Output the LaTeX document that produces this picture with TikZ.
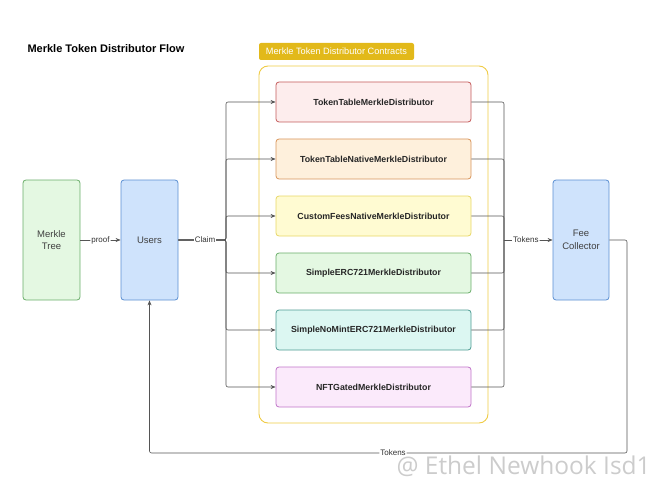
\documentclass[tikz,border=0pt]{standalone}
\usepackage{fontspec}
\setmainfont{Liberation Sans}
\newfontfamily\wmfont{Open Sans}
\usetikzlibrary{arrows.meta}
\definecolor{lnc}{HTML}{555555}
\definecolor{ylw}{HTML}{EFCB45}
\definecolor{ylwl}{HTML}{E2B91A}
\definecolor{rdF}{HTML}{FDEDED}\definecolor{rdD}{HTML}{C45A5A}
\definecolor{orF}{HTML}{FEF0DC}\definecolor{orD}{HTML}{D8955A}
\definecolor{yeF}{HTML}{FFFBD2}\definecolor{yeD}{HTML}{E8D766}
\definecolor{grF}{HTML}{E4F8E2}\definecolor{grD}{HTML}{6AAE6A}
\definecolor{tlF}{HTML}{DCF7F2}\definecolor{tlD}{HTML}{4E9C93}
\definecolor{puF}{HTML}{FBEAFB}\definecolor{puD}{HTML}{C074C8}
\definecolor{blF}{HTML}{CFE3FC}\definecolor{blD}{HTML}{5B8FD2}
\tikzset{
  dist/.style={draw, rounded corners=3pt, line width=0.8pt, minimum width=195pt, minimum height=40pt, font=\fontsize{8.8}{10}\selectfont\bfseries, text=black!85},
  tall/.style={draw, rounded corners=3pt, line width=0.8pt, minimum width=57pt, minimum height=120pt, font=\fontsize{9.5}{12.5}\selectfont, align=center, text=black!75},
  conn/.style={draw=lnc, line width=0.6pt, rounded corners=2pt},
  arr/.style={conn, -{Stealth[length=5pt,width=4pt]}},
  elab/.style={fill=white, inner sep=1pt, font=\fontsize{8}{9}\selectfont, text=black!80},
}
\begin{document}
\begin{tikzpicture}[x=1pt,y=-1pt]
\useasboundingbox (0,0) rectangle (656,492);
\node[anchor=west, font=\fontsize{11}{13}\selectfont\bfseries] (title) at (24,49) {Merkle Token Distributor Flow};
\node[draw=ylw, line width=0.9pt, rounded corners=9pt, minimum width=229pt, minimum height=357pt] (cont) at (373.5,244.5) {};
\node[fill=ylwl, rounded corners=2pt, minimum width=155pt, minimum height=17pt, inner sep=1pt, font=\fontsize{9.2}{10}\selectfont, text=white] (contlbl) at (336.5,51.5) {Merkle Token Distributor Contracts};
\node[dist, fill=rdF, draw=rdD] (d1) at (373.5,102) {TokenTableMerkleDistributor};
\node[dist, fill=orF, draw=orD] (d2) at (373.5,159) {TokenTableNativeMerkleDistributor};
\node[dist, fill=yeF, draw=yeD] (d3) at (373.5,216) {CustomFeesNativeMerkleDistributor};
\node[dist, fill=grF, draw=grD] (d4) at (373.5,273) {SimpleERC721MerkleDistributor};
\node[dist, fill=tlF, draw=tlD] (d5) at (373.5,330) {SimpleNoMintERC721MerkleDistributor};
\node[dist, fill=puF, draw=puD] (d6) at (373.5,387) {NFTGatedMerkleDistributor};
\node[tall, fill=grF, draw=grD] (mt) at (51.5,240) {Merkle\\Tree};
\node[tall, fill=blF, draw=blD] (users) at (149.5,240) {Users};
\node[tall, fill=blF, draw=blD, minimum width=56pt] (fee) at (581,240) {Fee\\Collector};
\coordinate (ctr) at (226,240);
\coordinate (ttr) at (504,240);
\coordinate (r1) at (627,240);
\coordinate (r2) at (627,453);
\coordinate (r3) at (149.5,453);
\draw[arr] (mt.east) -- node[elab] {proof} (users.west);
\foreach \d in {d1,d2,d3,d4,d5,d6}{
  \draw[arr] (users.east) -- (ctr) |- (\d.west);
  \draw[conn] (\d.east) -| (ttr);
}
\node[elab] (claimlbl) at (205,240) {Claim};
\draw[arr] (ttr) -- node[elab, pos=0.45] {Tokens} (fee.west);
\draw[arr] (fee.east) -- (r1) -- (r2) -- node[elab, pos=0.49] {Tokens} (r3) -- (users.south);
\node[anchor=west, font=\wmfont\fontsize{24.5}{28}\selectfont, text=black!20] (wm) at (393,466) {@ Ethel Newhook Isd1};
\end{tikzpicture}
\end{document}
